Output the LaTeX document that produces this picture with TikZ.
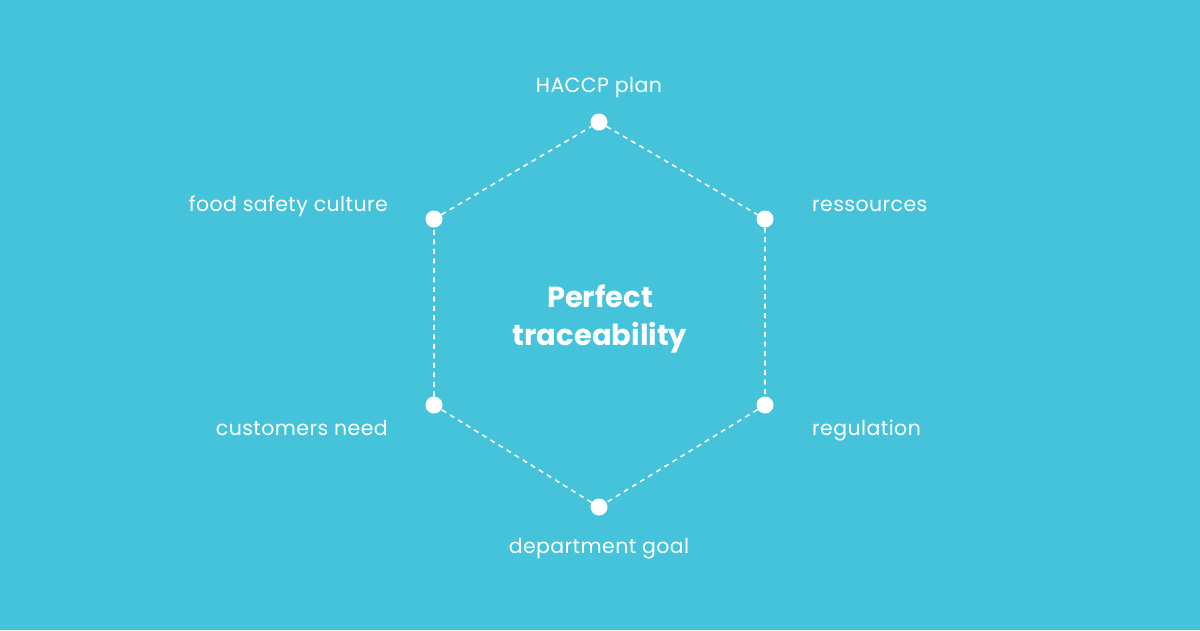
\documentclass[tikz,border=0pt]{standalone}
\usepackage{fontspec}
\setmainfont{Poppins}
\newfontfamily\lblfont[LetterSpace=2]{Poppins}
\definecolor{bgc}{RGB}{68,195,219}
\begin{document}
\begin{tikzpicture}[x=1pt,y=-1pt,
  dot/.style={circle,fill=white,inner sep=0pt,minimum size=17pt},
  link/.style={white,line width=1.6pt,dash pattern=on 5pt off 4.5pt},
  lbl/.style={text=white,inner sep=0pt,font=\lblfont\fontsize{20.5}{24}\selectfont},
  ttl/.style={text=white,inner sep=0pt,align=center,font=\fontsize{29}{38}\selectfont\bfseries}]
\fill[bgc] (0,0) rectangle (1200,630);
\useasboundingbox (0,0) rectangle (1200,630);
\node[dot] (t) at (599,122) {};
\node[dot] (ul) at (434,219) {};
\node[dot] (ur) at (765,219) {};
\node[dot] (ll) at (434,405) {};
\node[dot] (lr) at (765,405) {};
\node[dot] (b) at (599,507) {};
\draw[link] (t) -- (ur) -- (lr) -- (b) -- (ll) -- (ul) -- (t);
\node[lbl,anchor=base] (lt) at (599,92) {HACCP plan};
\node[lbl,anchor=base east] (lul) at (388,211) {food safety culture};
\node[lbl,anchor=base west] (lur) at (812,211) {ressources};
\node[lbl,anchor=base east] (lll) at (388,435) {customers need};
\node[lbl,anchor=base west] (llr) at (812,435) {regulation};
\node[lbl,anchor=base] (lb) at (599,553) {department goal};
\node[ttl] (c) at (600,319) {Perfect\\traceability};
\end{tikzpicture}
\end{document}
